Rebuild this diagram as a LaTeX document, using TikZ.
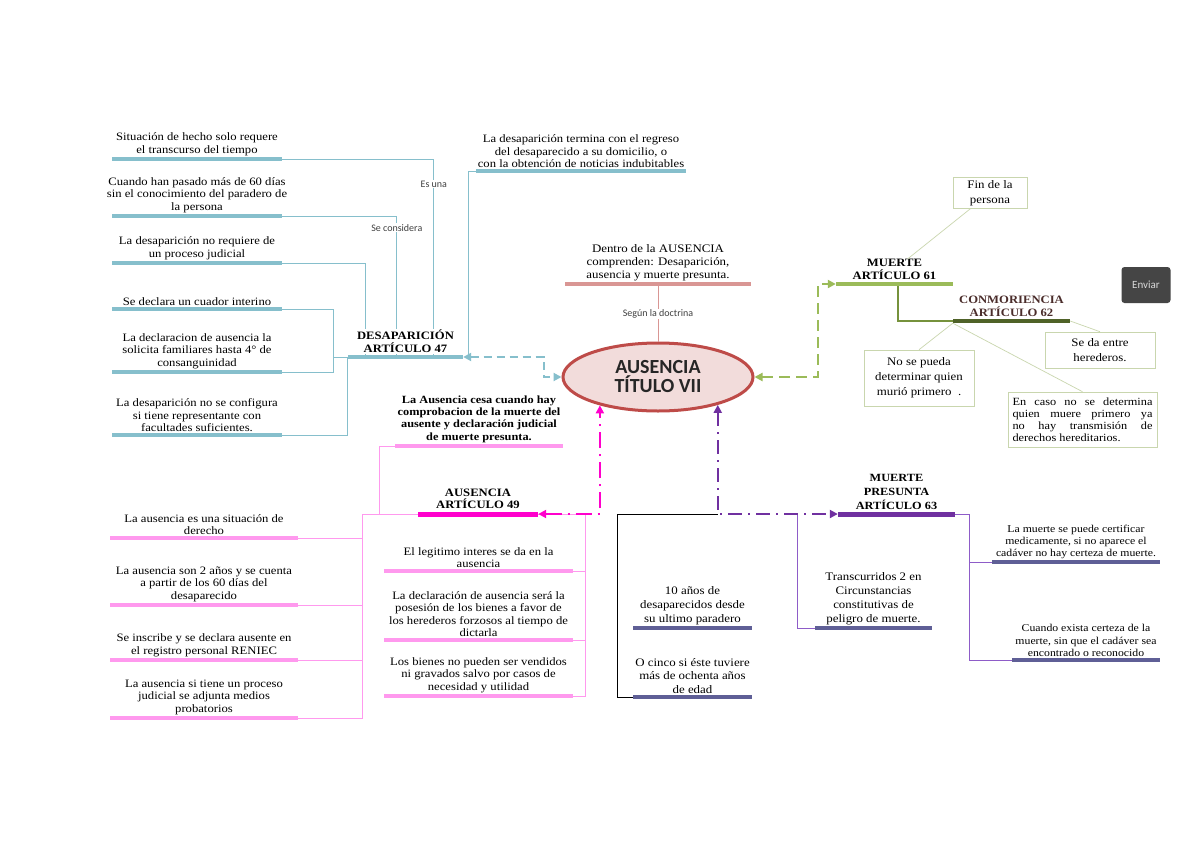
\documentclass[tikz,border=0pt]{standalone}
\usepackage{fontspec}
\setmainfont{Liberation Serif}[FakeStretch=1.12]
\newfontfamily\labelfont{Carlito}
\usetikzlibrary{arrows.meta,positioning,shapes.geometric}
\definecolor{desap}{HTML}{86BFCC}
\definecolor{titulo}{HTML}{BE4B48}
\definecolor{tituloback}{HTML}{F2DCDB}
\definecolor{doctrina}{HTML}{D99694}
\definecolor{muerte}{HTML}{9BBB59}
\definecolor{conmor}{HTML}{4F6228}
\definecolor{conmorline}{HTML}{76923C}
\definecolor{conmortext}{HTML}{4A2C2A}
\definecolor{notebox}{HTML}{C9D6AE}
\definecolor{ausmag}{HTML}{FF00CC}
\definecolor{auspink}{HTML}{FF99EE}
\definecolor{presunta}{HTML}{7030A0}
\definecolor{presline}{HTML}{8E5CC8}
\definecolor{plazo}{HTML}{5F5F96}
\definecolor{boton}{HTML}{454545}

\begin{document}
\begin{tikzpicture}[x=1pt,y=-1pt,
  txt/.style={font=\fontsize{11.3}{12.3}\selectfont,align=center,inner sep=0pt},
  ttl/.style={font=\fontsize{11.3}{12.8}\selectfont\bfseries,align=center,inner sep=0pt},
  bar/.style={fill=#1,inner sep=0pt,minimum height=4pt},
  link/.style={draw=#1,line width=0.8pt},
  note/.style={draw=notebox,line width=0.6pt,fill=white,inner sep=0pt,align=center,font=\fontsize{11.5}{15}\selectfont},
  lbl/.style={font=\labelfont\fontsize{10}{11}\selectfont,text=black!75,fill=white,inner sep=1pt},
  bothtips/.style={{Triangle[length=8pt,width=8pt]}-{Triangle[length=8pt,width=8pt]}}
]
  \fill[white] (0,0) rectangle (1200,849);
  \useasboundingbox (0,0) rectangle (1200,849);

  % centre
  \node[ellipse,draw=titulo,line width=3pt,fill=tituloback,minimum width=190,minimum height=68,
        font=\labelfont\fontsize{20}{19}\selectfont\bfseries,text=black!85,align=center] (aus) at (658,377) {AUSENCIA\\TÍTULO VII};
  \node[bar=doctrina,minimum width=186] (dentro) at (658,284) {};
  \node[txt,font=\fontsize{11.5}{12.6}\selectfont,above=1pt of dentro] {Dentro de la AUSENCIA\\comprenden: Desaparición,\\ausencia y muerte presunta.};
  \draw[link=doctrina] (dentro.south) -- (aus.north) node[lbl,midway] (doct) {Según la doctrina};

  % desaparicion
  \node[bar=desap,minimum width=115] (desapbar) at (405.5,357) {};
  \node[bar=desap,minimum width=170] (d1) at (197,159) {};
  \node[txt,above=1pt of d1] {Situación de hecho solo requere\\el transcurso del tiempo};
  \node[bar=desap,minimum width=170] (d2) at (197,216) {};
  \node[txt,above=1pt of d2] {Cuando han pasado más de 60 días\\sin el conocimiento del paradero de\\la persona};
  \node[bar=desap,minimum width=170] (d3) at (197,263) {};
  \node[txt,above=1pt of d3] {La desaparición no requiere de\\un proceso judicial};
  \node[bar=desap,minimum width=170] (d4) at (197,309) {};
  \node[txt,above=1pt of d4] {Se declara un cuador interino};
  \node[bar=desap,minimum width=170] (d5) at (197,372) {};
  \node[txt,above=1pt of d5] {La declaracion de ausencia la\\solicita familiares hasta 4° de\\consanguinidad};
  \node[bar=desap,minimum width=170] (d6) at (197,435) {};
  \node[txt,above=1pt of d6] {La desaparición no se configura\\si tiene representante con\\facultades suficientes.};
  \node[bar=desap,minimum width=210] (regreso) at (581,171) {};
  \node[txt,above=1pt of regreso] {La desaparición termina con el regreso\\del desaparecido a su domicilio, o\\con la obtención de noticias indubitables};

  \draw[link=desap] (d1.east) -| ([xshift=86]desapbar.north west) node[lbl,pos=0.564] (esuna) {Es una};
  \draw[link=desap] (d2.east) -| ([xshift=49]desapbar.north west) node[lbl,pos=0.543] (secons) {Se considera};
  \draw[link=desap] (d3.east) -| ([xshift=18]desapbar.north west);
  \draw[link=desap] (d4.east) -| ([xshift=51]d5.east) -- (d5.east);
  \draw[link=desap] (desapbar.west) -- ++(-15,0);
  \draw[link=desap] (d6.east) -| (desapbar.west);
  \draw[link=desap] (regreso.west) -| ([xshift=5]desapbar.east);
  \draw[draw=desap,line width=2pt,dash pattern=on 8pt off 5pt,bothtips] (desapbar.east) -| ([xshift=-18]aus.west) -- (aus.west);
  \node[ttl,fill=white,inner ysep=1pt,above=1pt of desapbar] (desapttl) {DESAPARICIÓN\\ARTÍCULO 47};

  % muerte
  \node[bar=muerte,minimum width=117] (muertebar) at (894.5,284) {};
  \node[ttl,above=2pt of muertebar] (muertettl) {MUERTE\\ARTÍCULO 61};
  \node[note,minimum width=74,minimum height=31] (fin) at (990,193) {Fin de la\\persona};
  \draw[draw=notebox,line width=0.7pt] (fin) -- (muertettl);
  \draw[draw=muerte,line width=2pt,dash pattern=on 11pt off 6pt,bothtips] (aus.east) -| ([xshift=-18]muertebar.west) -- (muertebar.west);

  \node[bar=conmor,minimum width=117] (conmbar) at (1011.5,321) {};
  \node[ttl,text=conmortext,above=2pt of conmbar] {CONMORIENCIA\\ARTÍCULO 62};
  \draw[link=conmorline,line width=1.2pt] ([xshift=3.5]muertebar.south) |- (conmbar.west);
  \node[note,minimum width=110,minimum height=36] (entre) at (1100,350) {Se da entre\\herederos.};
  \node[note,minimum width=110,minimum height=56] (primero) at (919,378) {No se pueda\\determinar quien\\murió primero\ \ .};
  \node[note,minimum width=149,minimum height=55,font=\fontsize{11}{12}\selectfont] (caso) at (1082.5,419.5)
    {\makebox[140pt][s]{En caso no se determina}\\\makebox[140pt][s]{quien muere primero ya}\\\makebox[140pt][s]{no hay transmisión de}\\\makebox[140pt][l]{derechos hereditarios.}};
  \draw[draw=notebox,line width=0.7pt] (conmbar.east) -- (entre.north);
  \draw[draw=notebox,line width=0.7pt] (conmbar.south west) -- (primero.north);
  \draw[draw=notebox,line width=0.7pt] (conmbar.south west) -- (caso.north);

  % ausencia
  \node[bar=ausmag,minimum width=120,minimum height=5pt] (ausbar) at (478,514) {};
  \node[ttl,above=2pt of ausbar] {AUSENCIA\\ARTÍCULO 49};
  \node[bar=auspink,minimum width=168] (cesa) at (479,446) {};
  \node[ttl,font=\fontsize{11}{12.4}\selectfont\bfseries,above=1pt of cesa] {La Ausencia cesa cuando hay\\comprobacion de la muerte del\\ausente y declaración judicial\\de muerte presunta.};
  \node[bar=auspink,minimum width=188] (a1) at (204,538) {};
  \node[txt,above=1pt of a1] {La ausencia es una situación de\\derecho};
  \node[bar=auspink,minimum width=188] (a2) at (204,605) {};
  \node[txt,above=1pt of a2] {La ausencia son 2 años y se cuenta\\a partir de los 60 días del\\desaparecido};
  \node[bar=auspink,minimum width=188] (a3) at (204,660) {};
  \node[txt,above=1pt of a3] {Se inscribe y se declara ausente en\\el registro personal RENIEC};
  \node[bar=auspink,minimum width=188] (a4) at (204,718) {};
  \node[txt,above=1pt of a4] {La ausencia si tiene un proceso\\judicial se adjunta medios\\probatorios};
  \node[bar=auspink,minimum width=189] (r1) at (478.5,571) {};
  \node[txt,above=1pt of r1] {El legitimo interes se da en la\\ausencia};
  \node[bar=auspink,minimum width=189] (r2) at (478.5,640) {};
  \node[txt,above=1pt of r2] {La declaración de ausencia será la\\posesión de los bienes a favor de\\los herederos forzosos al tiempo de\\dictarla};
  \node[bar=auspink,minimum width=189] (r3) at (478.5,696) {};
  \node[txt,above=1pt of r3] {Los bienes no pueden ser vendidos\\ni gravados salvo por casos de\\necesidad y utilidad};

  \draw[link=auspink] (cesa.west) -| ([xshift=-38]ausbar.west);
  \draw[link=auspink] (ausbar.west) -- ++(-55,0);
  \draw[link=auspink] (a1.east) -| ([xshift=-55]ausbar.west);
  \draw[link=auspink] (a2.east) -| ([xshift=-55]ausbar.west);
  \draw[link=auspink] (a3.east) -| ([xshift=-55]ausbar.west);
  \draw[link=auspink] (a4.east) -| ([xshift=-55]ausbar.west);
  \draw[link=auspink] (ausbar.east) -- ++(47,0);
  \draw[link=auspink] (r1.east) -| ([xshift=47]ausbar.east);
  \draw[link=auspink] (r2.east) -| ([xshift=47]ausbar.east);
  \draw[link=auspink] (r3.east) -| ([xshift=47]ausbar.east);
  \coordinate (apin) at (aus.206);
  \draw[draw=ausmag,line width=2pt,dash pattern=on 16pt off 6pt on 2pt off 6pt,bothtips] (ausbar.east) -| (apin);

  % muerte presunta
  \node[bar=presunta,minimum width=117,minimum height=5pt] (presbar) at (896.5,514) {};
  \node[ttl,font=\fontsize{11}{14}\selectfont\bfseries,above=2pt of presbar] {MUERTE\\PRESUNTA\\ARTÍCULO 63};
  \node[bar=plazo,minimum width=119] (p10) at (692.5,628) {};
  \node[txt,font=\fontsize{11.5}{14}\selectfont,above=1pt of p10] {10 años de\\desaparecidos desde\\su ultimo paradero};
  \node[bar=plazo,minimum width=119] (p5) at (692.5,697) {};
  \node[txt,font=\fontsize{11.5}{13.5}\selectfont,above=1pt of p5] {O cinco si éste tuviere\\más de ochenta años\\de edad};
  \node[bar=plazo,minimum width=117] (trans) at (873.5,628) {};
  \node[txt,font=\fontsize{11.5}{14}\selectfont,above=1pt of trans] {Transcurridos 2 en\\Circunstancias\\constitutivas de\\peligro de muerte.};
  \node[bar=plazo,minimum width=168] (cert) at (1076,562) {};
  \node[txt,font=\fontsize{10.5}{12}\selectfont,above=1pt of cert] {La muerte se puede certificar\\medicamente, si no aparece el\\cadáver no hay certeza de muerte.};
  \node[bar=plazo,minimum width=148] (exist) at (1086,660) {};
  \node[txt,font=\fontsize{10.5}{12.3}\selectfont,above=1pt of exist] {Cuando exista certeza de la\\muerte, sin que el cadáver sea\\encontrado o reconocido};

  \coordinate (ppin) at (aus.335);
  \coordinate (kturn) at (617,514);
  \draw[link=black] (p5.west) -| (kturn) -- (ppin |- presbar.west);
  \draw[link=presline] (trans.west) -| ([xshift=-40]presbar.west);
  \draw[link=presline] (presbar.east) -- ++(14,0);
  \draw[link=presline] (cert.west) -| ([xshift=14]presbar.east);
  \draw[link=presline] (exist.west) -| ([xshift=14]presbar.east);
  \draw[draw=presunta,line width=2pt,dash pattern=on 14pt off 6pt on 2pt off 6pt,bothtips] (ppin) |- (presbar.west);

  % boton
  \node[fill=boton,rounded corners=3pt,text=white!85!black,minimum width=49,minimum height=36,
        font=\labelfont\fontsize{11}{12}\selectfont] (enviar) at (1146,285) {Enviar};
\end{tikzpicture}
\end{document}
